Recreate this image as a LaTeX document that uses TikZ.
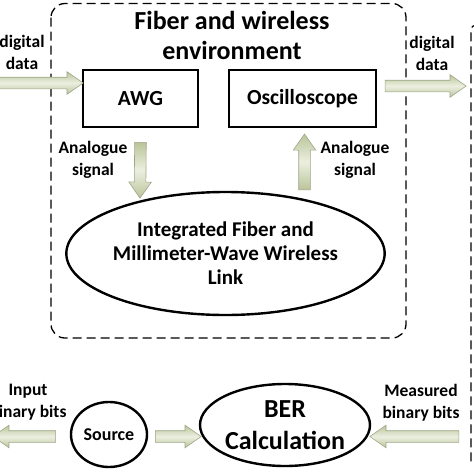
\documentclass[tikz,border=0pt]{standalone}
\usepackage{fontspec}
\setmainfont{Carlito}
\usetikzlibrary{calc, shapes.geometric, shapes.arrows}
\definecolor{arrowfill}{RGB}{186, 196, 154}
\definecolor{arrowmid}{RGB}{236, 239, 224}
\definecolor{arrowline}{RGB}{158, 166, 136}
\tikzset{
    every node/.style={font=\bfseries},
    envbox/.style={line width=1.3pt, dash pattern=on 9pt off 5pt},
    unitbox/.style={draw, line width=2.4pt, minimum width=#1, minimum height=57pt,
        font=\fontsize{21.5}{24}\selectfont\bfseries},
    oval/.style={draw, ellipse, line width=2.4pt, inner sep=0pt, align=center},
    lbl/.style={align=center, font=\fontsize{17.5}{22}\selectfont\bfseries},
    fatarrow/.style={single arrow, draw=arrowline, line width=0.6pt, inner sep=5.5pt,
        single arrow head extend=5.5pt, single arrow tip angle=70,
        top color=arrowfill, bottom color=arrowfill, middle color=arrowmid},
}
\newcommand{\blockarrow}[2]{
    \path let \p1=(#1), \p2=(#2), \n1={veclen(\x2-\x1,\y2-\y1)},
        \n2={atan2(\y2-\y1,\x2-\x1)} in
        node[fatarrow, minimum height=\n1, rotate=\n2] at ($(#1)!0.5!(#2)$) {};
}
\begin{document}
\begin{tikzpicture}[x=1pt, y=-1pt]
    \useasboundingbox (0, 0) rectangle (474, 474);
    % fiber and wireless environment
    \draw[envbox, rounded corners=14pt] (51, 3.5) rectangle (406, 338);
    \draw[envbox, rounded corners=5pt] (480, 25) -- (471, 25) -- (471, 462);
    \node[align=center, font=\fontsize{26}{30}\selectfont\bfseries] (title) at (232, 35)
        {Fiber and wireless\\environment};
    \node[unitbox=115pt] (awg) at (140.5, 98.5) {AWG};
    \node[unitbox=147pt] (osc) at (302.5, 98.5) {Oscilloscope};
    \node[oval, minimum width=307pt, minimum height=123pt,
        font=\fontsize{21}{24}\selectfont\bfseries] (link) at (225.5, 253.5)
        {Integrated Fiber and\\Millimeter-Wave Wireless\\Link};
    % bottom row
    \node[oval, minimum width=76pt, minimum height=65pt,
        font=\fontsize{18}{20}\selectfont\bfseries] (source) at (109, 434.5) {Source};
    \node[oval, minimum width=170pt, minimum height=82pt,
        font=\fontsize{26}{32}\selectfont\bfseries] (ber) at (285, 425) {BER\\Calculation};
    % labels
    \node[lbl] (indata) at (22, 52) {digital\\data};
    \node[lbl] (outdata) at (432, 53) {digital\\data};
    \node[lbl] (downsig) at (93, 160) {Analogue\\signal};
    \node[lbl] (upsig) at (355, 160) {Analogue\\signal};
    \node[lbl] (inbits) at (28, 402.5) {Input\\binary bits};
    \node[lbl] (measbits) at (421, 402.5) {Measured\\binary bits};
    % block arrows
    \coordinate (in0) at (-6, 83);
    \coordinate (in1) at (79, 83);
    \coordinate (awg0) at ($(awg.south)+(0, 10)$);
    \coordinate (awg1) at (140, 194);
    \coordinate (osc0) at (304.5, 194);
    \coordinate (osc1) at ($(osc.south)+(2, 10)$);
    \coordinate (out0) at (381, 86);
    \coordinate (out1) at (462, 86);
    \coordinate (src0) at ($(source.west)+(-10, 2)$);
    \coordinate (src1) at (-3, 436.5);
    \coordinate (ber0) at ($(source.east)+(3, 2)$);
    \coordinate (ber1) at (197, 436.5);
    \coordinate (meas0) at (463, 436.5);
    \coordinate (meas1) at (374, 436.5);
    \blockarrow{in0}{in1}
    \blockarrow{awg0}{awg1}
    \blockarrow{osc0}{osc1}
    \blockarrow{out0}{out1}
    \blockarrow{src0}{src1}
    \blockarrow{ber0}{ber1}
    \blockarrow{meas0}{meas1}
\end{tikzpicture}
\end{document}
